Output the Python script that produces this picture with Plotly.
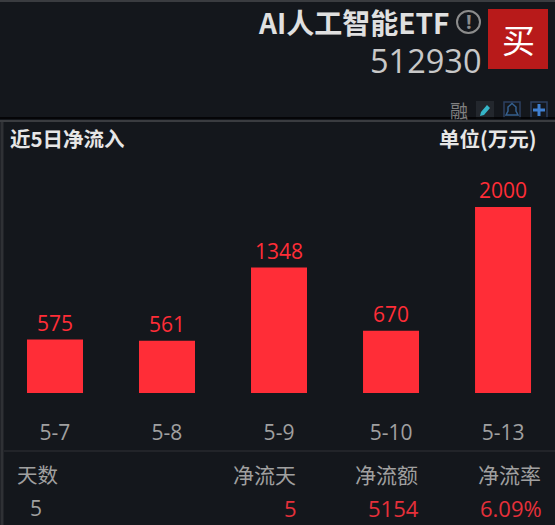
import plotly.graph_objects as go

W = 555
H = 525

dates = ["5-7", "5-8", "5-9", "5-10", "5-13"]
net_inflow = [575, 561, 1348, 670, 2000]

stat_headers = ["净流天", "净流额", "净流率"]
stat_values = ["5", "5154", "6.09%"]
stat_right_px = [297, 419, 542]

BG = "#14171c"
RED = "#ff2d37"
GREY = "#a0a0a0"
CJK = "Noto Sans CJK SC"
LATIN = "Open Sans, Noto Sans CJK SC"


def px_x(x):
    return x / W


def px_y(y):
    return 1 - y / H


def label(x, y, text, size, color=GREY, anchor="left", font=CJK, bold=False):
    if bold:
        text = "<b>" + text + "</b>"
    return dict(
        x=px_x(x), y=px_y(y), xref="paper", yref="paper",
        text=text, showarrow=False, xanchor=anchor, yanchor="middle",
        borderpad=0,
        font=dict(size=size, color=color, family=font),
    )


def box(x0, y0, x1, y1, fill=None, line=None, width=1):
    return dict(
        type="rect", xref="paper", yref="paper",
        x0=px_x(x0), x1=px_x(x1), y0=px_y(y0), y1=px_y(y1),
        fillcolor=fill or "rgba(0,0,0,0)",
        line=dict(color=line or "rgba(0,0,0,0)", width=width),
        layer="below",
    )


def hline(y, color, width, x0=0, x1=W):
    return dict(
        type="line", xref="paper", yref="paper",
        x0=px_x(x0), x1=px_x(x1), y0=px_y(y), y1=px_y(y),
        line=dict(color=color, width=width),
    )


def vline(x, y0, y1, color, width):
    return dict(
        type="line", xref="paper", yref="paper",
        x0=px_x(x), x1=px_x(x), y0=px_y(y0), y1=px_y(y1),
        line=dict(color=color, width=width),
    )


fig = go.Figure()

fig.add_trace(
    go.Bar(
        x=dates,
        y=net_inflow,
        marker=dict(color=RED, line=dict(width=0)),
        text=[str(v) for v in net_inflow],
        textposition="outside",
        textfont=dict(size=21, color=RED, family=LATIN),
        cliponaxis=False,
        showlegend=False,
        hoverinfo="skip",
    )
)

shapes = [
    hline(1, "#3a3c40", 2),
    hline(118, "#000000", 1.5),
    hline(121, "#3a3c40", 2),
    vline(2, 122, 525, "#2f3135", 3),
    hline(451, "#303236", 1, x0=4),
    box(488, 9, 548, 69, fill="#b81a1a"),
    # info icon
    dict(type="circle", xref="paper", yref="paper",
         x0=px_x(457), x1=px_x(480), y0=px_y(11), y1=px_y(33),
         line=dict(color="#8c8c8c", width=2)),
    # edit / bell / add buttons
    box(476, 101, 494, 119, fill="#23272d"),
    box(504, 102, 520, 118, line="#2c4060", width=1.5),
    box(531, 102, 547, 118, line="#2c4060", width=1.5),
    dict(type="path", xref="paper", yref="paper",
         path=f"M {px_x(480)} {px_y(116)} L {px_x(481)} {px_y(112)} L {px_x(487)} {px_y(105)} "
              f"L {px_x(490)} {px_y(108)} L {px_x(484)} {px_y(115)} Z",
         fillcolor="#35b5c8", line=dict(width=0)),
    dict(type="path", xref="paper", yref="paper",
         path=f"M {px_x(506)} {px_y(115)} L {px_x(508)} {px_y(111)} L {px_x(508)} {px_y(107)} "
              f"L {px_x(512)} {px_y(103.5)} L {px_x(516)} {px_y(107)} L {px_x(516)} {px_y(111)} "
              f"L {px_x(518)} {px_y(115)} Z",
         line=dict(color="#35608f", width=1.5)),
    box(533, 108.5, 545, 111.5, fill="#3f7fd0"),
    box(537.5, 104, 540.5, 116, fill="#3f7fd0"),
]

annotations = [
    label(449.5, 22, "AI人工智能ETF", 28, color="#e0e0e0", anchor="right", bold=True),
    label(468.5, 22, "!", 20, color="#8c8c8c", anchor="center", font=LATIN, bold=True),
    label(483, 60, "512930", 32.5, color="#c8c8c8", anchor="right", font=LATIN),
    label(518, 39, "买", 33, color="#ffffff", anchor="center"),
    label(459, 110, "融", 18, color="#808080", anchor="center"),
    label(9, 138, "近5日净流入", 20.5, color="#e6e6e6", bold=True),
    label(538, 138, "单位(万元)", 20.5, color="#e6e6e6", anchor="right", bold=True),
    label(16, 474, "天数", 20.5),
    label(36, 508, "5", 21, anchor="center", font=LATIN),
]
for right, head, val in zip(stat_right_px, stat_headers, stat_values):
    annotations.append(label(right, 474, head, 21, anchor="right"))
    annotations.append(label(right + 1, 508, val, 22, color="#e5303a", anchor="right", font=LATIN))

fig.update_layout(
    width=W,
    height=H,
    margin=dict(l=0, r=0, t=0, b=0),
    paper_bgcolor=BG,
    plot_bgcolor=BG,
    bargap=0.5,
    shapes=shapes,
    annotations=annotations,
)

fig.update_xaxes(
    type="category",
    range=[-0.491, 4.464],
    domain=[0, 1],
    showgrid=False,
    showline=False,
    zeroline=False,
    ticks="",
    ticklabelstandoff=25,
    tickfont=dict(size=21, color=GREY, family=LATIN),
)

fig.update_yaxes(
    range=[0, 2505],
    domain=[px_y(393), px_y(160)],
    showgrid=False,
    showline=False,
    zeroline=False,
    showticklabels=False,
    ticks="",
)

fig.write_html(
    "out.html",
    config=dict(displayModeBar=False),
    post_script="document.body.style.margin = '0';",
)
